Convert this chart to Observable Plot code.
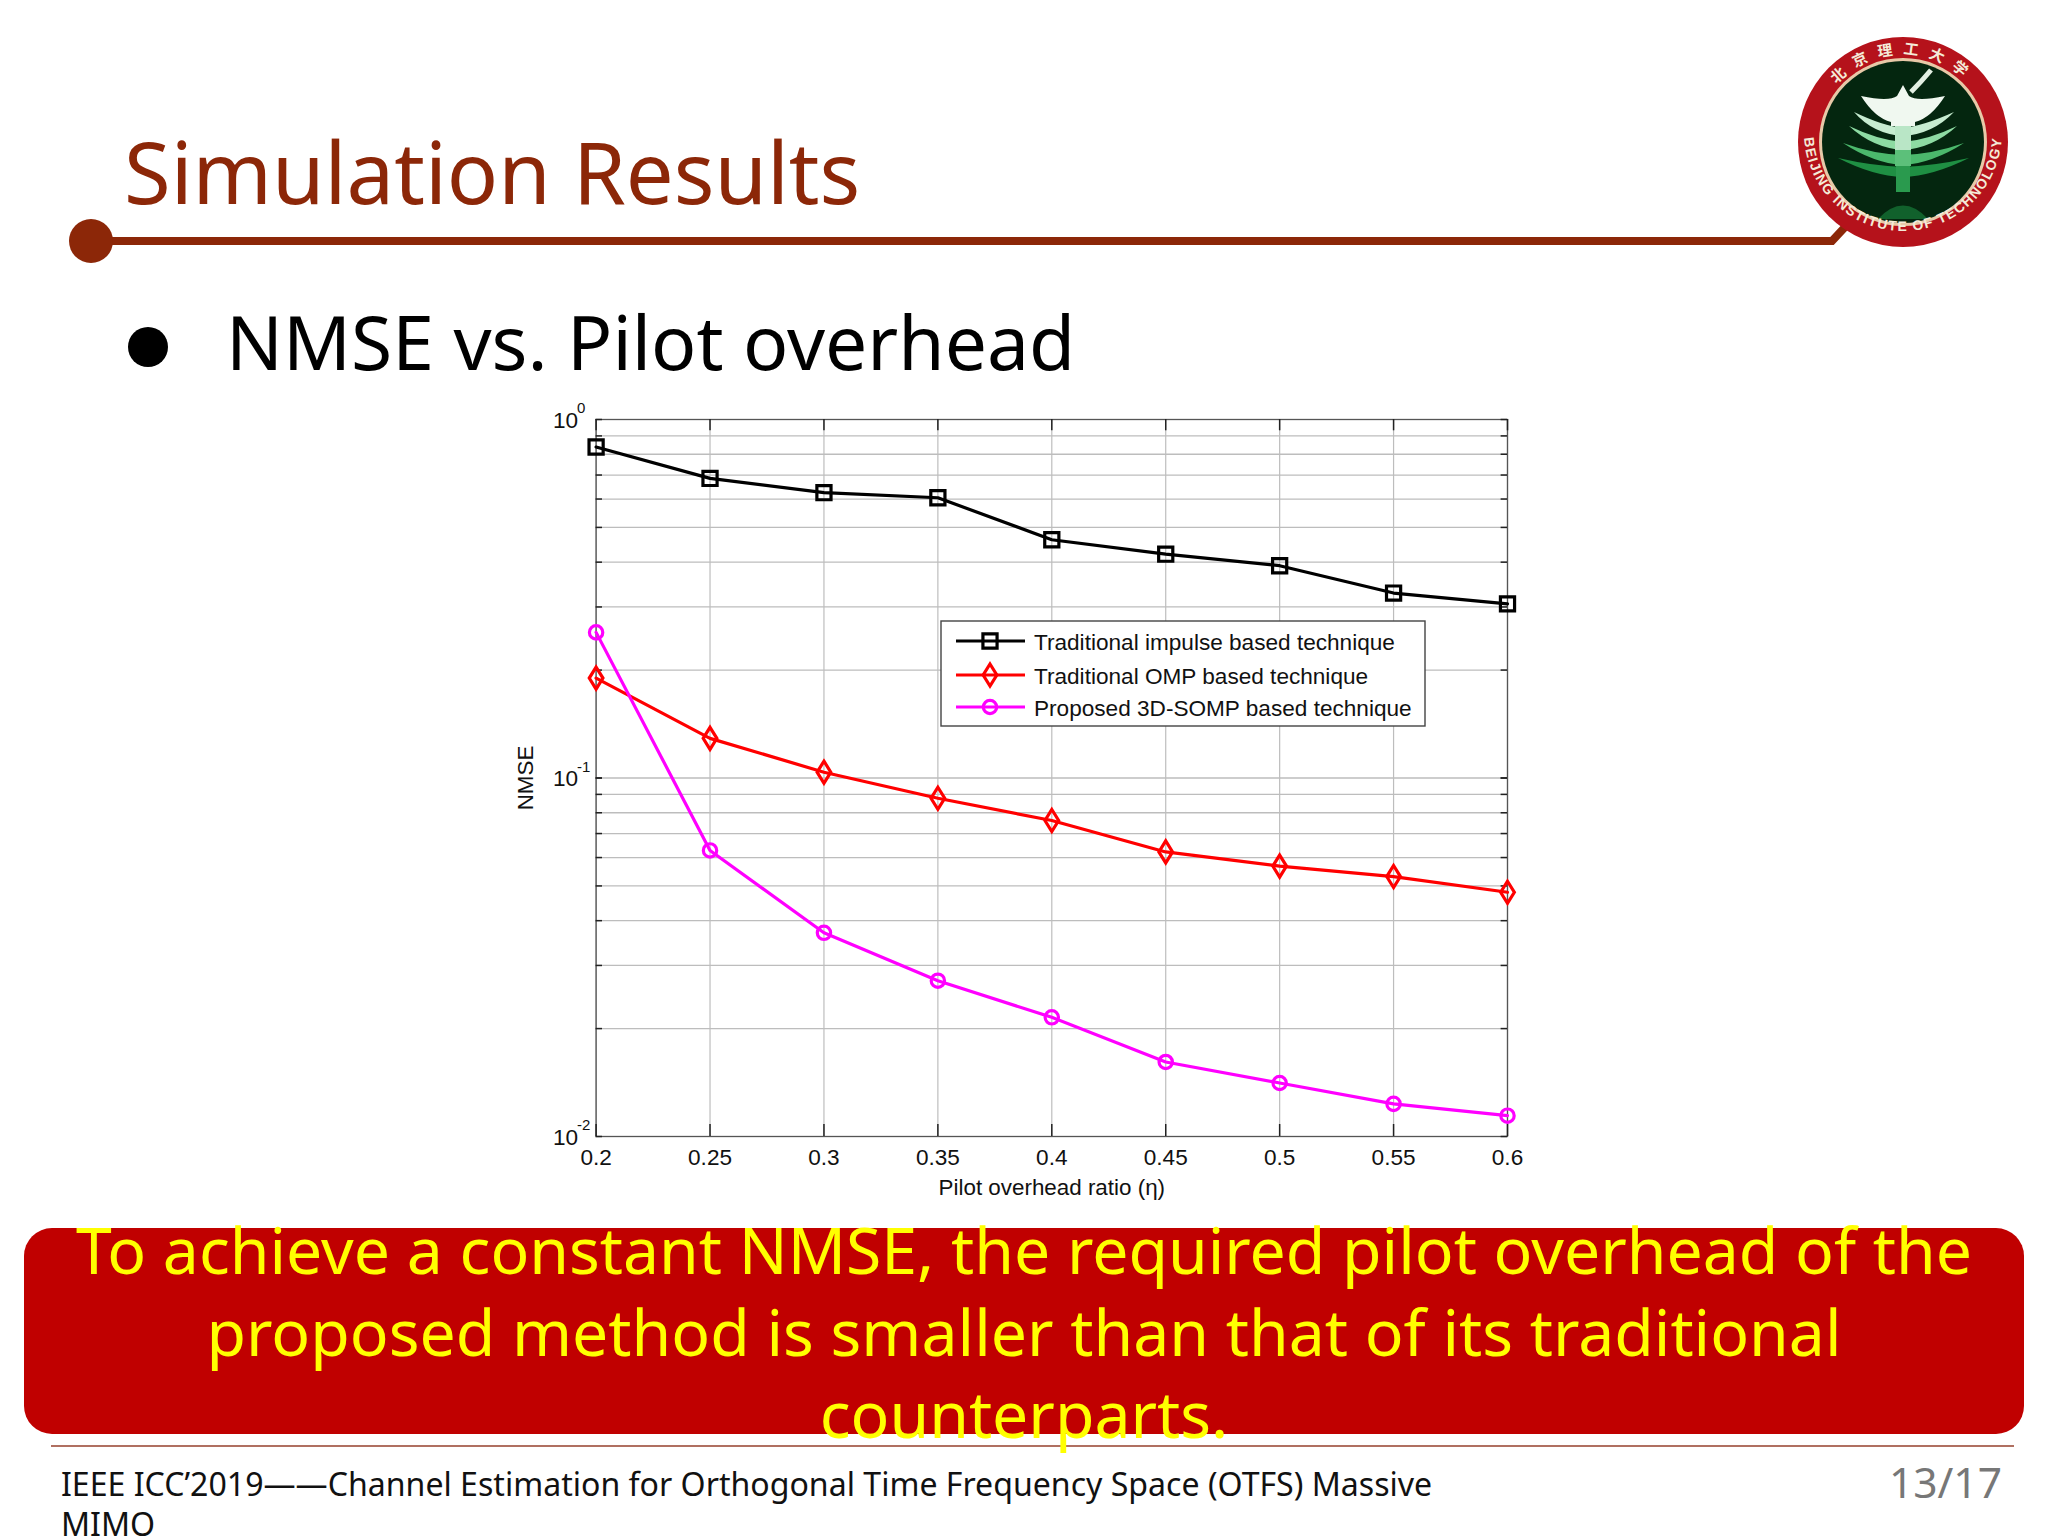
<!DOCTYPE html>
<html>
<head>
<meta charset="utf-8">
<script src="https://cdn.jsdelivr.net/npm/d3@7"></script>
<script src="https://cdn.jsdelivr.net/npm/@observablehq/plot@0.6"></script>
<style>
  html, body { margin: 0; background: #fff; }
  #slide { position: relative; width: 2048px; height: 1536px; overflow: hidden; font-family: "Noto Sans", sans-serif; }
  #slide > div, #slide > svg { position: absolute; }
  .line { white-space: nowrap; line-height: 1; }
  #chart { left: 480px; top: 400px; }
  #chart svg { overflow: visible; }
  #box { left: 24px; top: 1228px; width: 2000px; height: 206px; background: #c00000; border-radius: 28px; }
</style>
</head>
<body>
<div id="slide">
  <svg id="decor" width="2048" height="1536" style="left:0;top:0">
    <path d="M90 241H1832L1846 226" fill="none" stroke="#8c2708" stroke-width="8"/>
    <circle cx="91" cy="241" r="22" fill="#8c2708"/>
    <circle cx="148" cy="347" r="20" fill="#000"/>
    <line x1="51" x2="2014" y1="1446" y2="1446" stroke="#96402c" stroke-width="1.6"/>
    <g id="logo" transform="translate(1903,142)">
      <circle r="105" fill="#b5121b"/>
      <circle r="84" fill="#e8c9a8"/>
      <circle r="81" fill="#04260f"/>
      <path d="M-49-30Q-20-16 0-14Q20-16 51-30Q30-8 0-6Q-30-8-49-30Z" fill="#c6ecd0"/>
      <path d="M-54-16Q-25-2 0 0Q25-2 54-16Q30 6 0 8Q-30 6-54-16Z" fill="#8ddba3"/>
      <path d="M-60 1Q-30 12 0 13Q30 12 61 1Q30 21 0 23Q-30 21-60 1Z" fill="#4bb86c"/>
      <path d="M-65 16Q-30 24 0 25Q30 24 66 16Q30 34 0 35Q-30 34-65 16Z" fill="#1f8f43"/>
      <rect x="-8" y="-16" width="16" height="24" fill="#b9e6c6"/>
      <rect x="-8" y="8" width="16" height="16" fill="#5cc07a"/>
      <rect x="-7" y="24" width="14" height="26" fill="#2a9a4e"/>
      <path d="M-42-46Q-14-40-6-46L0-57L6-46Q14-40 42-46Q28-24 12-20V-16H-12V-20Q-28-24-42-46Z" fill="#f0f8f0"/>
      <path d="M-25 77Q0 50 25 77Z" fill="#11612c"/>
      <path d="M8-50Q18-60 28-72" fill="none" stroke="#e2efe2" stroke-width="5"/>
      <defs>
        <path id="arcLow" d="M-99-10A99 99 0 1 0 99-10"/>
        <path id="arcTop" d="M-76-44A88 88 0 0 1 76-44"/>
      </defs>
      <text font-family="Liberation Sans" font-weight="bold" font-size="14" fill="#f4ead8" letter-spacing="1.3">
        <textPath href="#arcLow" startOffset="50%" text-anchor="middle">BEIJING INSTITUTE OF TECHNOLOGY</textPath>
      </text>
      <text font-family="Noto Sans CJK SC" font-weight="bold" font-size="15" fill="#f4ead8" letter-spacing="10">
        <textPath href="#arcTop" startOffset="50%" text-anchor="middle">北京理工大学</textPath>
      </text>
    </g>
  </svg>

  <div class="line" style="left:124px;top:129px;font-size:85px;color:#8c2708">Simulation Results</div>
  <div class="line" style="left:226px;top:304px;font-size:75px;color:#000">NMSE vs. Pilot overhead</div>

  <div id="chart"></div>
  <svg id="legend" width="490" height="110" style="left:938px;top:618px"></svg>

  <div id="box"></div>
  <div class="line" style="left:0;width:2048px;text-align:center;top:1217px;font-size:64.3px;color:#ffff00">To achieve a constant NMSE, the required pilot overhead of the</div>
  <div class="line" style="left:0;width:2048px;text-align:center;top:1299px;font-size:64.3px;color:#ffff00">proposed method is smaller than that of its traditional</div>
  <div class="line" style="left:0;width:2048px;text-align:center;top:1381px;font-size:64.3px;color:#ffff00">counterparts.</div>

  <div class="line" style="left:61px;top:1468px;font-size:32.1px;color:#111">IEEE ICC’2019——Channel Estimation for Orthogonal Time Frequency Space (OTFS) Massive</div>
  <div class="line" style="left:61px;top:1508px;font-size:32.1px;color:#111">MIMO</div>
  <div class="line" style="right:46px;top:1461px;font-size:42.5px;color:#777">13/17</div>
</div>

<script>
const overhead = [0.2, 0.25, 0.3, 0.35, 0.4, 0.45, 0.5, 0.55, 0.6]
const impulse = [0.838, 0.685, 0.625, 0.605, 0.462, 0.421, 0.391, 0.328, 0.306]
const omp = [0.190, 0.129, 0.1038, 0.0878, 0.0761, 0.0622, 0.0568, 0.0531, 0.048]
const somp = [0.2548, 0.0628, 0.037, 0.0272, 0.0215, 0.01614, 0.0141, 0.01233, 0.01143]

const xTickLabels = ["0.2", "0.25", "0.3", "0.35", "0.4", "0.45", "0.5", "0.55", "0.6"]
const yDecades = [1, 0.1, 0.01]
const yExponents = ["0", "-1", "-2"]
const yGrid = [0.9, 0.8, 0.7, 0.6, 0.5, 0.4, 0.3, 0.2, 0.1,
  0.09, 0.08, 0.07, 0.06, 0.05, 0.04, 0.03, 0.02]

// matlab diamonds are taller than they are wide
const tallDiamond = {
  draw(ctx, size) {
    const h = Math.sqrt(size) * 0.78
    const w = h * 0.62
    ctx.moveTo(0, -h)
    ctx.lineTo(w, 0)
    ctx.lineTo(0, h)
    ctx.lineTo(-w, 0)
    ctx.closePath()
  }
}

const seriesNames = ["Traditional impulse based technique", "Traditional OMP based technique", "Proposed 3D-SOMP based technique"]
const seriesColors = ["#000000", "#ff0000", "#ff00ff"]
const seriesSymbols = [d3.symbolSquare, tallDiamond, d3.symbolCircle]
const seriesSizes = [200, 200, 140]
const seriesValues = [impulse, omp, somp]

const rows = seriesValues.flatMap((vals, i) =>
  vals.map((v, j) => ({ x: overhead[j], y: v, s: i })))

const font = "Liberation Sans, Arial, sans-serif"
const tickColor = "#222"

let chart = Plot.plot({
  width: 1080,
  height: 820,
  marginLeft: 115.6,
  marginRight: 53,
  marginTop: 19,
  marginBottom: 84,
  style: { fontFamily: font, fontSize: "22.6px", color: "#111", background: "transparent" },
  x: { domain: [0.2, 0.6], label: null },
  y: { type: "log", domain: [0.01, 1], label: null, axis: null },
  marks: [
    Plot.ruleY(yGrid, { stroke: "#bdbdbd", strokeWidth: 1.3 }),
    Plot.ruleX(overhead, { stroke: "#bdbdbd", strokeWidth: 1.2 }),
    Plot.frame({ stroke: "#555", strokeWidth: 1.3 }),
    // short inward ticks on all four sides, given in data units
    Plot.ruleY(yDecades.concat(yGrid), { x1: 0.2, x2: 0.2028, stroke: tickColor, strokeWidth: 1.5 }),
    Plot.ruleY(yDecades.concat(yGrid), { x1: 0.5972, x2: 0.6, stroke: tickColor, strokeWidth: 1.5 }),
    Plot.ruleX(overhead, { y1: 0.01, y2: 0.0108, stroke: tickColor, strokeWidth: 1.5 }),
    Plot.ruleX(overhead, { y1: 1, y2: 0.93, stroke: tickColor, strokeWidth: 1.5 }),
    Plot.axisX({ anchor: "bottom", ticks: overhead, tickSize: 0, tickPadding: 12, tickFormat: (d, i) => xTickLabels[i], label: null }),
    // 10^n labels, base and exponent are separate texts
    Plot.text(yDecades, { x: 0.2, y: d => d, text: () => "10", textAnchor: "end", dx: -18, dy: 1, fontSize: 22.6 }),
    Plot.text(yDecades, { x: 0.2, y: d => d, text: (d, i) => yExponents[i], textAnchor: "start", dx: -19, dy: -11, fontSize: 15 }),
    Plot.text(["NMSE"], { frameAnchor: "left", text: d => d, rotate: -90, textAnchor: "middle", dx: -70, fontSize: 22.4 }),
    Plot.text(["Pilot overhead ratio (η)"], { frameAnchor: "bottom", text: d => d, dy: 58, fontSize: 22.4 }),
    ...seriesValues.map((vals, i) => Plot.line(rows.filter(d => d.s === i), {
      x: "x", y: "y", stroke: seriesColors[i], strokeWidth: 3.2
    })),
    ...seriesValues.map((vals, i) => Plot.dot(rows.filter(d => d.s === i), {
      x: "x", y: "y", stroke: seriesColors[i], strokeWidth: 3.2, fill: "none",
      symbol: seriesSymbols[i], r: Math.sqrt(seriesSizes[i] / Math.PI)
    }))
  ]
})
d3.select("#chart").append(() => chart)

// legend box sits on top of the plot
const legend = d3.select("#legend")
legend.append("rect").attr("x", 3).attr("y", 3).attr("width", 484).attr("height", 105)
  .attr("fill", "#fff").attr("stroke", "#444").attr("stroke-width", 1.4)
const rowY = [23, 57, 89]
seriesNames.forEach((name, i) => {
  const g = legend.append("g").attr("transform", `translate(0,${rowY[i]})`)
  g.append("line").attr("x1", 18).attr("x2", 87)
    .attr("stroke", seriesColors[i]).attr("stroke-width", 3.2)
  g.append("path").attr("transform", "translate(52,0)")
    .attr("d", d3.symbol(seriesSymbols[i], seriesSizes[i])())
    .attr("fill", "none").attr("stroke", seriesColors[i]).attr("stroke-width", 3.2)
  g.append("text").attr("x", 96).attr("y", 9).text(name)
    .attr("font-family", font).attr("font-size", 22.6).attr("fill", "#111")
})
</script>
</body>
</html>
